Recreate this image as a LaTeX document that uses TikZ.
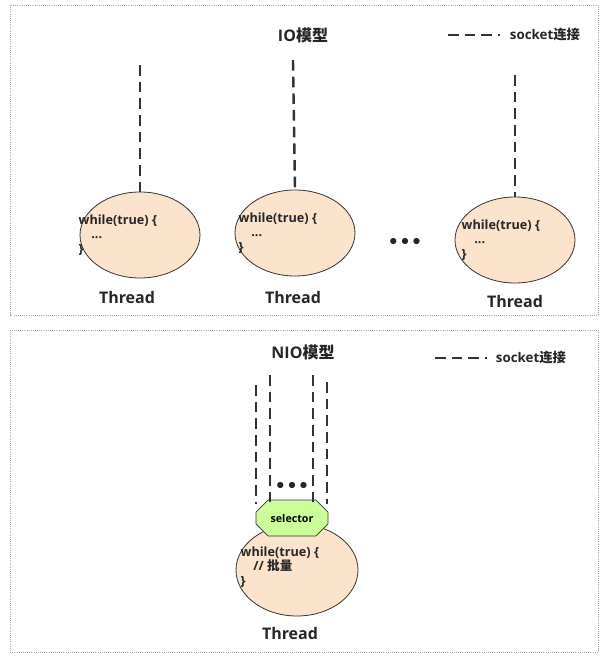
\documentclass[tikz,border=0pt]{standalone}
\usepackage{fontspec}
\setmainfont{Open Sans}
\newfontfamily\cjk{Noto Sans CJK SC}
\usetikzlibrary{shapes.misc,shapes.geometric}
\definecolor{peach}{HTML}{FCE3CB}
\definecolor{lgreen}{HTML}{CCFF99}
\begin{document}
\begin{tikzpicture}[x=0.75pt,y=-0.75pt,
  frame/.style={draw=gray!70,densely dotted,line width=0.6pt},
  sock/.style={draw=black!80,dash pattern=on 8pt off 4.5pt,line width=1.8pt},
  thr/.style={ellipse,draw=black!80,fill=peach,line width=0.6pt,minimum width=120*0.75pt,minimum height=86*0.75pt},
  code/.style={font=\bfseries\fontsize{9.5}{12}\selectfont,align=left,text=black!85},
  lab/.style={font=\bfseries\fontsize{12}{14}\selectfont,text=black!85}]
\useasboundingbox (0,0) rectangle (609,663);
\draw[frame] (10,5) rectangle (598,315);
\draw[frame] (10,330) rectangle (598,652);
\node[lab] (t1) at (303,35) {IO{\cjk 模型}};
\coordinate (l1a) at (448,35); \coordinate (l1b) at (500,35);
\draw[sock] (l1a) -- (l1b);
\node[lab,font=\bfseries\fontsize{10}{12}\selectfont] (s1) at (545,35) {socket{\cjk 连接}};
\node[thr] (e1) at (140,235) {};
\node[thr] (e2) at (295,233) {};
\node[thr] (e3) at (515,240) {};
\foreach \e/\x/\t in {e1/140/65,e2/293/60,e3/515/75}{
  \coordinate (top\e) at (\x,\t);
  \draw[sock] (top\e) -- (\e.north);
}
\node[code,anchor=west] (c1) at (74,235) {while(true) \{\\[-1pt]\quad ...\\[-1pt]\}};
\node[code,anchor=west] (c2) at (234,233) {while(true) \{\\[-1pt]\quad ...\\[-1pt]\}};
\node[code,anchor=west] (c3) at (457,240) {while(true) \{\\[-1pt]\quad ...\\[-1pt]\}};
\node[lab] (th1) at (127,297) {Thread};
\node[lab] (th2) at (293,297) {Thread};
\node[lab] (th3) at (515,301) {Thread};
\node[lab] (d1) at (405,242) {$\bullet\bullet\bullet$};
\node[lab] (t2) at (303,352) {NIO{\cjk 模型}};
\coordinate (l2a) at (435,358); \coordinate (l2b) at (487,358);
\draw[sock] (l2a) -- (l2b);
\node[lab,font=\bfseries\fontsize{10}{12}\selectfont] (s2) at (531,358) {socket{\cjk 连接}};
\node[thr,minimum width=122*0.75pt,minimum height=92*0.75pt] (e4) at (297,570) {};
\node[chamfered rectangle,chamfered rectangle xsep=6pt,chamfered rectangle ysep=6pt,draw=black!80,fill=lgreen,line width=0.6pt,minimum width=72*0.75pt,minimum height=36*0.75pt,inner sep=0pt,font=\bfseries\fontsize{8}{9}\selectfont] (sel) at (292,518) {selector};
\foreach \x/\t in {256/385,270/375,313/375,327/382}{
  \coordinate (u\x) at (\x,\t); \coordinate (v\x) at (\x,504);
  \draw[sock] (u\x) -- (v\x);
}
\node[lab] (d2) at (292,486) {$\bullet\bullet\bullet$};
\node[code,anchor=west] (c4) at (236,567) {while(true) \{\\[-1pt]\quad // {\cjk 批量}\\[-1pt]\}};
\node[lab] (th4) at (290,633) {Thread};
\end{tikzpicture}
\end{document}
